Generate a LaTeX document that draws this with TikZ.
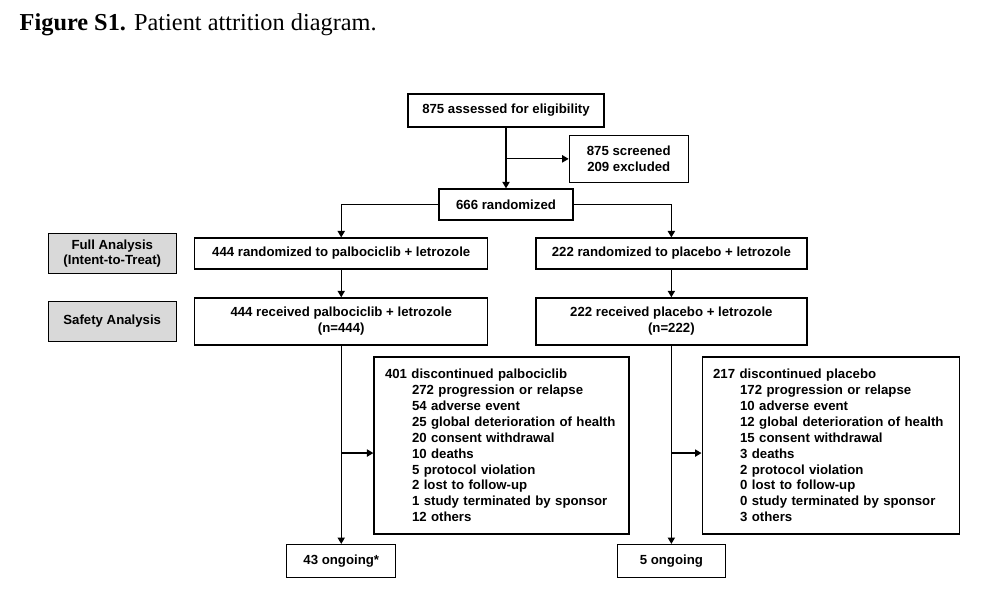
\documentclass[tikz,border=0pt]{standalone}
\usepackage{fontspec}
\setmainfont{Liberation Serif}
\setsansfont{Liberation Sans}
\usetikzlibrary{positioning,arrows.meta}

\begin{document}
\begin{tikzpicture}[node distance=6.9mm and 4.3mm, every node/.style={font=\sffamily\bfseries\fontsize{9.4}{11.3}\selectfont,align=center},
  box/.style={draw,inner sep=1mm},
  grey/.style={box,fill=gray!30,minimum width=32mm,minimum height=10mm},
  list/.style={box,align=left,text width=58.25mm,inner xsep=2.75mm,minimum height=44.25mm},
  >={Triangle[length=1.6mm,width=1.8mm]}, line width=0.9pt]
\useasboundingbox (0,0) rectangle (25,-15.1);
\node[anchor=base west,font=\rmfamily\mdseries\fontsize{17.3}{20}\selectfont] (title) at (0.36,-0.76) {\textbf{Figure S1.} Patient attrition diagram.};
\node[box,minimum width=49mm,minimum height=8.25mm] (assess) at (12.65,-2.76) {875 assessed for eligibility};
\node[box,minimum width=29.75mm,minimum height=11.75mm,below right=1.8mm and -9mm of assess] (scr) {875 screened\\209 excluded};
\node[box,minimum width=33.5mm,minimum height=7.75mm,below=15.2mm of assess] (rand) {666 randomized};
\node[box,minimum width=73.25mm,minimum height=7.75mm,below left=4.2mm and -12.5mm of rand] (armA) {444 randomized to palbociclib + letrozole};
\node[box,minimum width=67.75mm,minimum height=7.75mm,below right=4.2mm and -9.6mm of rand] (armB) {222 randomized to placebo + letrozole};
\node[box,minimum width=73.25mm,minimum height=11.75mm,below=of armA] (recA) {444 received palbociclib + letrozole\\(n=444)};
\node[box,minimum width=67.75mm,minimum height=11.75mm,below=of armB] (recB) {222 received placebo + letrozole\\(n=222)};
\node[grey,left=of armA] (itt) {Full Analysis\\(Intent-to-Treat)};
\node[grey,left=of recA] (saf) {Safety Analysis};
\node[list,below right=2.7mm and -28.75mm of recA] (discA) {401 discontinued palbociclib\\
  \hspace*{6.75mm}272 progression or relapse\\
  \hspace*{6.75mm}54 adverse event\\
  \hspace*{6.75mm}25 global deterioration of health\\
  \hspace*{6.75mm}20 consent withdrawal\\
  \hspace*{6.75mm}10 deaths\\
  \hspace*{6.75mm}5 protocol violation\\
  \hspace*{6.75mm}2 lost to follow-up\\
  \hspace*{6.75mm}1 study terminated by sponsor\\
  \hspace*{6.75mm}12 others};
\node[list,text width=58.75mm,below right=2.7mm and -26.5mm of recB] (discB) {217 discontinued placebo\\
  \hspace*{6.75mm}172 progression or relapse\\
  \hspace*{6.75mm}10 adverse event\\
  \hspace*{6.75mm}12 global deterioration of health\\
  \hspace*{6.75mm}15 consent withdrawal\\
  \hspace*{6.75mm}3 deaths\\
  \hspace*{6.75mm}2 protocol violation\\
  \hspace*{6.75mm}0 lost to follow-up\\
  \hspace*{6.75mm}0 study terminated by sponsor\\
  \hspace*{6.75mm}3 others};
\node[box,minimum width=27.25mm,minimum height=8.25mm,below=49.6mm of recA] (ongA) {43 ongoing*};
\node[box,minimum width=27mm,minimum height=8.25mm,below=49.6mm of recB] (ongB) {5 ongoing};
\coordinate (kA) at ([yshift=-1.9mm]discA.west);
\coordinate (kB) at ([yshift=-1.9mm]discB.west);
\draw[->] (assess) -- (rand); \draw[->] (assess.south |- scr.west) -- (scr.west);
\draw[->] (rand.west) -| (armA); \draw[->] (rand.east) -| (armB);
\draw[->] (armA) -- (recA); \draw[->] (armB) -- (recB);
\draw[->] (recA) -- (ongA); \draw[->] (recB) -- (ongB);
\draw[->] (recA.south |- kA) -- (kA); \draw[->] (recB.south |- kB) -- (kB);
\end{tikzpicture}
\end{document}
